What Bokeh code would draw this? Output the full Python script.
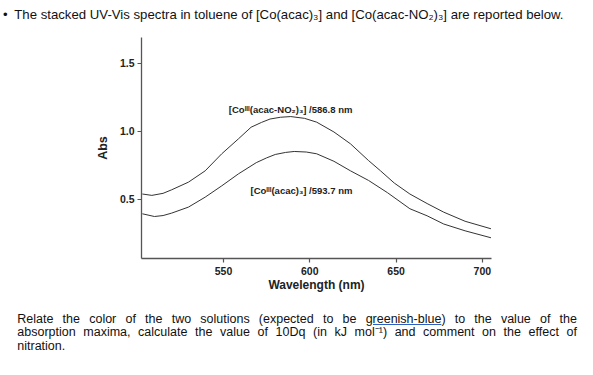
from bokeh.plotting import figure
from bokeh.models import Label, Range1d, Div
from bokeh.layouts import column
from bokeh.embed import file_html
from bokeh.resources import INLINE

# ---- data ----
wl_no2 = [503, 508.5, 515, 520, 529.7, 539.4, 549, 558.7, 566, 572, 577, 583, 589, 597, 604,
          614, 623.6, 634, 641, 649, 658, 668, 677.6, 690, 705]
abs_no2 = [0.54, 0.53, 0.545, 0.571, 0.627, 0.71, 0.835, 0.945, 1.03, 1.065, 1.09, 1.103,
           1.108, 1.095, 1.067, 0.995, 0.908, 0.786, 0.71, 0.62, 0.54, 0.47, 0.407, 0.34, 0.285]
wl_acac = [503, 510, 515, 520, 529.7, 539.4, 549, 558.7, 569, 575, 580, 586, 591, 598, 604,
           614, 623.6, 634, 645, 658, 668, 677.6, 690, 705]
abs_acac = [0.395, 0.375, 0.382, 0.40, 0.444, 0.517, 0.60, 0.688, 0.77, 0.805, 0.83, 0.845,
            0.852, 0.848, 0.835, 0.78, 0.71, 0.64, 0.55, 0.432, 0.38, 0.32, 0.27, 0.219]
x_ticks = [550, 600, 650, 700]
y_ticks = [0.5, 1.0, 1.5]
label_no2 = "[Coᴵᴵᴵ(acac-NO₂)₃] /586.8 nm"
label_acac = "[Coᴵᴵᴵ(acac)₃] /593.7 nm"
header_text = "The stacked UV-Vis spectra in toluene of [Co(acac)₃] and [Co(acac-NO₂)₃] are reported below."
para_lines = [
    "Relate the color of the two solutions (expected to be {u}) to the value of the",
    "absorption maxima, calculate the value of 10Dq (in kJ mol⁻¹) and comment on the effect of",
    "nitration.",
]
underlined = "greenish-blue"

FONT = "Liberation Sans"

header_html = (
    '<div style="font-family:\'Liberation Sans\';font-size:13.2px;line-height:15px;color:#111;'
    'margin:0;padding:7px 0 0 0;white-space:nowrap;">'
    '<span style="display:inline-block;width:14.3px;padding-left:3px;">&bull;</span>'
    + header_text + '</div>'
)

line_divs = []
for i, ln in enumerate(para_lines):
    last = i == len(para_lines) - 1
    ln = ln.replace("{u}", '<span style="text-decoration:underline;'
                    'text-decoration-color:#2e5fc4;">' + underlined + '</span>')
    line_divs.append(
        '<div style="height:13.5px;line-height:13.5px;white-space:nowrap;overflow:visible;'
        + ('text-align:left;' if last else 'text-align:justify;text-align-last:justify;')
        + '">' + ln + '</div>')
para_html = (
    '<div style="font-family:\'Liberation Sans\';font-size:12.5px;color:#111;'
    'margin:0 0 0 17.3px;padding:9.9px 0 0 0;width:559.7px;">' + "".join(line_divs) + '</div>'
)

header = Div(text=header_html, width=577, height=30, margin=0)
para = Div(text=para_html, width=577, height=52, margin=0)

p = figure(width=577, height=273, output_backend="svg", toolbar_location=None,
           x_range=Range1d(502.5, 705.3), y_range=Range1d(0.067, 1.688),
           min_border_left=141, min_border_right=86, min_border_top=7, min_border_bottom=45,
           margin=0)
p.outline_line_color = None
p.grid.visible = False
p.background_fill_color = "white"
p.border_fill_color = "white"

for ax in (p.xaxis, p.yaxis):
    ax.axis_line_color = "#555555"
    ax.axis_line_width = 1.3
    ax.major_tick_line_color = "#555555"
    ax.major_tick_line_width = 1.2
    ax.major_tick_in = 0
    ax.major_tick_out = 4
    ax.minor_tick_line_color = None
    ax.major_label_text_font = FONT
    ax.major_label_text_font_style = "bold"
    ax.major_label_text_font_size = "10.5px"
    ax.major_label_text_color = "#222222"
    ax.axis_label_text_font = FONT
    ax.axis_label_text_font_style = "bold"
    ax.axis_label_text_color = "#222222"

p.xaxis.ticker = x_ticks
p.yaxis.ticker = y_ticks
p.xaxis.major_label_overrides = {550: "550", 600: "600", 650: "650", 700: "700"}
p.yaxis.major_label_overrides = {0.5: "0.5", 1.0: "1.0", 1.5: "1.5"}
p.xaxis.axis_label = "Wavelength (nm)"
p.yaxis.axis_label = "Abs"
p.xaxis.axis_label_text_font_size = "12px"
p.yaxis.axis_label_text_font_size = "12.5px"
p.xaxis.major_label_standoff = 4
p.yaxis.major_label_standoff = 3
p.xaxis.axis_label_standoff = 0
p.yaxis.axis_label_standoff = 7

p.line(wl_no2, abs_no2, line_color="#333333", line_width=1)
p.line(wl_acac, abs_acac, line_color="#333333", line_width=1)

for txt, yv in ((label_no2, 1.163), (label_acac, 0.566)):
    p.add_layout(Label(x=624.7, y=yv, text=txt, text_align="right", text_baseline="alphabetic",
                       text_font=FONT, text_font_style="bold", text_font_size="9.5px",
                       text_color="#222222"))

layout = column(header, p, para, spacing=0)

open("out.html", "w").write(file_html(layout, INLINE))
